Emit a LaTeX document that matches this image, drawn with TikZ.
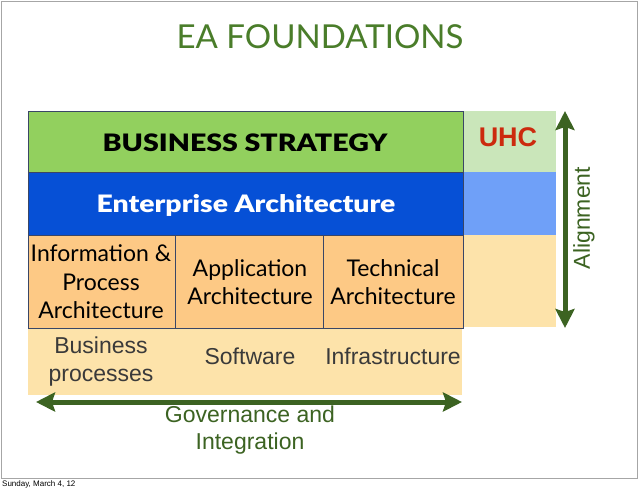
\documentclass[tikz,border=0pt]{standalone}
\usepackage{graphicx}
\usepackage{fontspec}
\setmainfont{Lato}
\newfontfamily\helv{Liberation Sans}
\newfontfamily\latoblack{Lato Black}
\usetikzlibrary{arrows.meta}
\definecolor{stratgreen}{HTML}{92D05E}
\definecolor{eablue}{HTML}{0650D6}
\definecolor{cellorange}{HTML}{FDC985}
\definecolor{palegreen}{HTML}{CAE6BA}
\definecolor{paleblue}{HTML}{6FA0F8}
\definecolor{paleorange}{HTML}{FDE3AA}
\definecolor{darkgreen}{HTML}{3C6322}
\definecolor{titlegreen}{HTML}{4A7D2A}
\definecolor{uhcred}{HTML}{CC2A0E}
\definecolor{edge}{HTML}{3A4666}
\definecolor{txtgray}{HTML}{3A3A3A}
\tikzset{
  band/.style={draw=edge, line width=0.7pt, inner sep=0pt, anchor=center},
  pale/.style={draw=none, inner sep=0pt, anchor=center},
  celltext/.style={align=center, font=\fontsize{23}{28.5}\selectfont, text=black, inner sep=0pt},
  lowtext/.style={align=center, font=\helv\fontsize{23}{28}\selectfont, text=txtgray, inner sep=0pt},
  bigarrow/.style={draw=darkgreen, line width=5pt, {Stealth[length=19pt,width=19pt,inset=3pt]}-{Stealth[length=19pt,width=19pt,inset=3pt]}},
}
\begin{document}
\begin{tikzpicture}[x=1pt,y=-1pt]
\useasboundingbox (0,0) rectangle (638,491);
\fill[white] (0,0) rectangle (638,491);
\draw[gray!70, line width=0.8pt] (1,1) rectangle (637,478);
\node[anchor=west, font=\helv\fontsize{8}{9}\selectfont, inner sep=0pt] (date) at (2,484) {Sunday, March 4, 12};

\node[font=\fontsize{33}{36}\selectfont, text=titlegreen, inner sep=0pt] (title) at (320,37) {EA FOUNDATIONS};

% right pale column
\node[pale, fill=palegreen, minimum width=93pt, minimum height=61pt] (rg) at (509.5,141.5) {};
\node[pale, fill=paleblue, minimum width=93pt, minimum height=63pt] (rb) at (509.5,203.5) {};
\node[pale, fill=paleorange, minimum width=93pt, minimum height=92pt] (ro) at (509.5,281) {};
% bottom pale band
\node[pale, fill=paleorange, minimum width=434pt, minimum height=67pt] (low) at (245,361.5) {};

% main bands
\node[band, fill=stratgreen, minimum width=435pt, minimum height=61pt] (strat) at (245.5,141.5) {};
\node[font=\latoblack\fontsize{24}{26}\selectfont, text=black, inner sep=0pt] (stratT) at (245,143) {\scalebox{1.19}[1]{BUSINESS STRATEGY}};
\node[band, fill=eablue, minimum width=435pt, minimum height=63pt] (ea) at (245.5,203.5) {};
\node[font=\latoblack\fontsize{24}{26}\selectfont, text=white, inner sep=0pt] (eaT) at (246,205) {\scalebox{1.18}[1]{Enterprise Architecture}};

\node[band, fill=cellorange, minimum width=147pt, minimum height=93pt] (c1) at (101.5,281.5) {};
\node[band, fill=cellorange, minimum width=148pt, minimum height=93pt] (c2) at (249,281.5) {};
\node[band, fill=cellorange, minimum width=140pt, minimum height=93pt] (c3) at (393,281.5) {};
\node[celltext] (c1T) at (101,282) {Information \&\\Process\\Architecture};
\node[celltext] (c2T) at (250,282) {Application\\Architecture};
\node[celltext] (c3T) at (393,282) {Technical\\Architecture};

\node[font=\helv\bfseries\fontsize{27}{30}\selectfont, text=uhcred, inner sep=0pt] (uhc) at (508,137) {UHC};

\node[lowtext] (bp) at (101,362) {Business\\processes};
\node[lowtext] (sw) at (250,356) {Software};
\node[lowtext] (inf) at (393,356) {Infrastructure};

% arrows
\coordinate (hl) at (36,402);
\coordinate (hr) at (462,402);
\draw[bigarrow] (hl) -- (hr);
\node[align=center, font=\helv\fontsize{23}{27.5}\selectfont, text=darkgreen, inner sep=0pt] (gov) at (250,430) {Governance and\\Integration};

\coordinate (vt) at (565,111);
\coordinate (vb) at (565,328);
\draw[bigarrow] (vt) -- (vb);
\node[rotate=90, font=\helv\fontsize{23}{26}\selectfont, text=darkgreen, inner sep=0pt] (align) at (584,218) {Alignment};
\end{tikzpicture}
\end{document}
